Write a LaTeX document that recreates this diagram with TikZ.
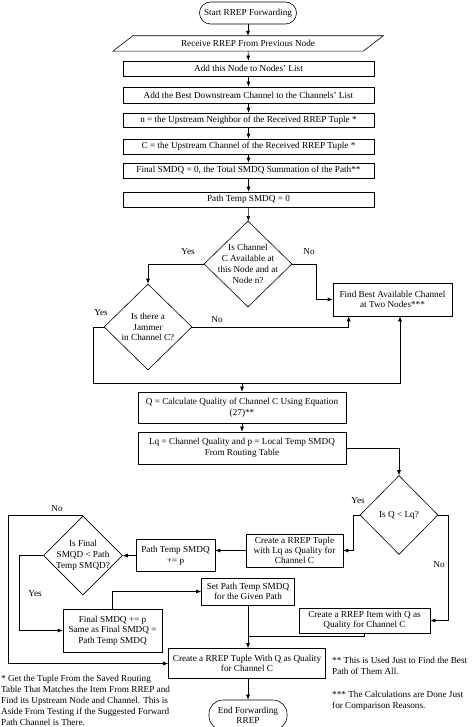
\documentclass[tikz,border=0pt]{standalone}
\usepackage{fontspec}
\setmainfont{Liberation Serif}
\usetikzlibrary{shapes.geometric,arrows.meta}

\begin{document}
\begin{tikzpicture}[x=1pt,y=-1pt,
    every node/.style={font=\fontsize{9.2}{10.6}\selectfont},
    >={Latex[length=5pt,width=4pt]},
    line/.style={line width=0.6pt},
    box/.style={draw,line width=0.6pt,rectangle,align=center,inner sep=1pt},
    decision/.style={draw,line width=0.6pt,diamond,align=center,inner sep=-12pt},
    term/.style={draw,line width=0.6pt,rounded corners=11pt,align=center,inner sep=1pt},
    note/.style={align=left,anchor=north west,inner sep=0pt,font=\fontsize{9.2}{11}\selectfont}]
    \useasboundingbox (0,0) rectangle (474,727);

    % main column
    \node[term, minimum width=97pt, minimum height=22pt] (start) at (248,13) {Start RREP Forwarding};
    \node[minimum width=250pt, minimum height=15pt, inner sep=0pt] (recv) at (248,43.5) {Receive RREP From Previous Node};
    \draw[line] ([xshift=-10pt]recv.south west) -- ([xshift=10pt]recv.north west)
        -- ([xshift=10pt]recv.north east) -- ([xshift=-10pt]recv.south east) -- cycle;
    \node[box, minimum width=251pt, minimum height=15pt] (addnode) at (248.5,68.5) {Add this Node to Nodes' List};
    \node[box, minimum width=251pt, minimum height=16pt] (addch) at (248.5,95) {Add the Best Downstream Channel to the Channels' List};
    \node[box, minimum width=251pt, minimum height=14pt] (upn) at (248.5,120) {n = the Upstream Neighbor of the Received RREP Tuple *};
    \node[box, minimum width=251pt, minimum height=15pt] (upc) at (248.5,146.5) {C = the Upstream Channel of the Received RREP Tuple *};
    \node[box, minimum width=251pt, minimum height=15pt] (finalzero) at (248.5,170.5) {Final SMDQ = 0, the Total SMDQ Summation of the Path**};
    \node[box, minimum width=251pt, minimum height=15pt] (tempzero) at (248.5,199.5) {Path Temp SMDQ = 0};

    % channel checks
    \node[decision, minimum width=88pt, minimum height=86pt, font=\fontsize{9.2}{10.8}\selectfont] (avail) at (248,264) {Is Channel\\C Available at\\this Node and at\\Node n?};
    \node[decision, minimum width=88pt, minimum height=86pt, font=\fontsize{9.2}{10.8}\selectfont] (jammer) at (148,327) {Is there a\\Jammer\\in Channel C?};
    \node[box, minimum width=119pt, minimum height=33pt] (findch) at (392.5,299.5) {Find Best Available Channel\\at Two Nodes***};
    \coordinate (merge) at (242,383);

    \node[box, minimum width=208pt, minimum height=31pt] (calcq) at (242,407.5) {Q = Calculate Quality of Channel C Using Equation\\(27)**};
    \node[box, minimum width=208pt, minimum height=32pt] (lq) at (242,448) {Lq = Channel Quality and p = Local Temp SMDQ\\From Routing Table};

    % comparison part
    \node[decision, minimum width=78pt, minimum height=79pt] (lesslq) at (399,515) {Is Q < Lq?};
    \node[box, minimum width=97pt, minimum height=33pt, font=\fontsize{9.2}{10}\selectfont] (tuplelq) at (294.5,550.5) {Create a RREP Tuple\\with Lq as Quality for\\Channel C};
    \node[box, minimum width=79pt, minimum height=32pt] (pathtemp) at (175.5,555.5) {Path Temp SMDQ\\+= p};
    \node[decision, minimum width=79pt, minimum height=79pt, font=\fontsize{9.2}{10.8}\selectfont] (finalcmp) at (83,555.5) {Is Final\\SMQD < Path\\Temp SMQD?};
    \node[box, minimum width=99pt, minimum height=43pt] (finalsum) at (112.5,630.5) {Final SMDQ += p\\Same as Final SMDQ =\\Path Temp SMDQ};
    \node[box, minimum width=93pt, minimum height=27pt, font=\fontsize{9.2}{10}\selectfont] (setpath) at (248,591.5) {Set Path Temp SMDQ\\for the Given Path};
    \node[box, minimum width=131pt, minimum height=25pt, font=\fontsize{9.2}{10}\selectfont] (item) at (364.5,620.5) {Create a RREP Item with Q as\\Quality for Channel C};
    \coordinate (junc) at (248,636);
    \node[box, minimum width=157pt, minimum height=30pt] (tupleq) at (247,663.5) {Create a RREP Tuple With Q as Quality\\for Channel C};
    \node[draw, line width=0.6pt, rounded corners=14pt, align=center, minimum width=78pt, minimum height=30pt, inner sep=1pt, font=\fontsize{9.2}{10.2}\selectfont] (stop) at (248,715) {End Forwarding\\RREP};

    % branch labels
    \node (yes1) at (188,252) {Yes};
    \node (no1) at (309,252) {No};
    \node (yes2) at (101,313) {Yes};
    \node (no2) at (217,320) {No};
    \node (yes3) at (358,501) {Yes};
    \node (no3) at (439,565) {No};
    \node (no4) at (57,509) {No};
    \node (yes4) at (35,594) {Yes};

    % notes
    \node[note] (foot1) at (1,675) {* Get the Tuple From the Saved Routing\\Table That Matches the Item From RREP and\\Find its Upstream Node and Channel. This is\\Aside From Testing if the Suggested Forward\\Path Channel is There.};
    \node[note] (foot2) at (332,657) {** This is Used Just to Find the Best\\Path of Them All.};
    \node[note] (foot3) at (332,691) {*** The Calculations are Done Just\\for Comparison Reasons.};

    % connectors
    \draw[line,->] (start) -- (recv);
    \draw[line,->] (recv) -- (addnode);
    \draw[line,->] (addnode) -- (addch);
    \draw[line,->] (addch) -- (upn);
    \draw[line,->] (upn) -- (upc);
    \draw[line,->] (upc) -- (finalzero);
    \draw[line,->] (finalzero) -- (tempzero);
    \draw[line,->] (tempzero) -- (avail);
    \draw[line,->] (avail.west) -| (jammer.north);
    \draw[line,->] (avail.east) -- ++(24,0) |- (findch.west);
    \draw[line,->] (jammer.east) -| ([xshift=16pt]findch.south west);
    \draw[line] (jammer.west) -- ++(-10,0) |- (merge);
    \draw[line,->] (merge) -- (calcq.north);
    \draw[line,->] (merge) -| ([xshift=7.5pt]findch.south);
    \draw[line,->] (calcq) -- (lq);
    \draw[line,->] (lq.east) -| (lesslq.north);
    \draw[line,->] (lesslq.west) -- ++(-6,0) |- (tuplelq.east);
    \draw[line,->] (lesslq.east) -- ++(10,0) |- (item.east);
    \draw[line,->] (tuplelq.west) -- (tuplelq.west -| pathtemp.east);
    \draw[line,->] (pathtemp.west) -- (finalcmp.east);
    \draw[line,->] (finalcmp.north) -- ++(-75,0) |- (tupleq.west);
    \draw[line,->] (finalcmp.west) -- ++(-24,0) |- (finalsum.west);
    \draw[line,->] (finalsum.north) |- (setpath.west);
    \draw[line] (setpath.south) -- (junc);
    \draw[line] (item.south) |- (junc);
    \draw[line,->] (junc) -- (junc |- tupleq.north);
    \draw[line,->] (tupleq.south -| stop.north) -- (stop.north);
\end{tikzpicture}
\end{document}
